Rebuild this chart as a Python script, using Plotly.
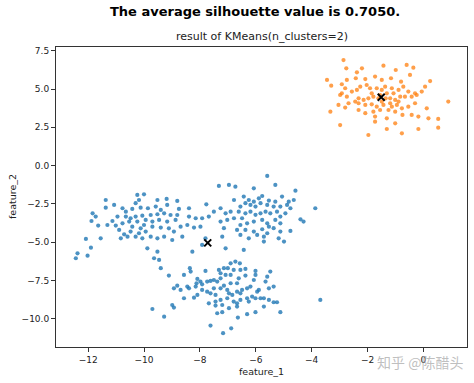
import plotly.graph_objects as go

# cluster 1 (orange)
orange_x = [-2.86,-2.76,-2.20,-2.38,-1.43,-0.99,-0.60,-0.36,-3.45,-3.30,-2.92,-2.74,-2.42,-2.08,-1.73,-1.49,
            -1.16,-0.80,-0.48,0.24,0.06,-0.06,-0.30,-0.54,-0.72,-0.89,-1.13,-1.37,-1.49,-1.67,-1.91,-2.03,
            -2.26,-2.38,-2.56,-2.80,-2.92,-2.98,-2.74,-2.32,-2.14,-1.97,-1.79,-1.61,-1.31,-1.19,-1.01,-0.83,
            -0.66,-0.42,-0.24,-2.32,-2.08,-1.85,-1.67,-1.43,-1.19,-0.95,-0.77,-0.54,-0.30,0.12,0.89,-3.04,
            -2.80,-3.33,-2.32,-2.08,-1.79,-1.55,-1.25,-1.01,-0.75,-0.42,-1.73,-1.73,-1.31,-1.01,-0.18,0.18,
            0.53,-2.98,-1.97,-1.31,-0.77,-0.18,0.53,-1.55,-1.49,-1.07,-0.89,-2.44,-2.68,-1.85,-1.35,-1.13]
orange_y = [6.89,6.35,6.35,6.09,6.52,6.24,6.57,6.39,5.59,5.22,5.31,5.59,5.70,5.65,5.81,5.59,
            5.70,5.48,5.92,5.52,5.15,4.83,4.72,4.83,5.15,4.94,5.05,5.15,4.94,5.05,5.05,5.26,
            5.15,4.94,4.83,5.05,4.72,4.61,4.50,4.39,4.29,4.39,4.50,4.39,4.72,4.39,4.29,4.50,
            4.50,4.50,4.61,4.07,3.96,4.00,3.85,3.96,4.07,3.96,3.74,3.85,4.07,3.74,4.18,3.96,
            3.79,3.52,3.63,3.42,3.52,3.63,3.63,3.52,3.31,3.31,3.20,2.87,3.09,2.76,3.20,3.09,
            3.05,2.65,2.00,2.39,2.11,2.39,2.48,4.61,4.18,4.72,4.18,4.18,4.07,4.72,4.39,3.85]

# cluster 0 (blue)
blue_x = [
    # left blob
    -11.37,-11.07,-11.37,-10.24,-10.00,-10.18,-10.30,-9.52,-9.19,-8.81,-11.84,-11.73,-11.88,-11.64,-11.31,
    -10.77,-10.65,-10.42,-10.12,-9.86,-9.58,-9.40,-9.17,-8.75,-8.39,-7.77,-7.50,-7.68,-7.92,-8.15,-8.39,
    -8.81,-9.05,-9.28,-9.52,-9.76,-10.06,-10.30,-10.48,-10.65,-10.95,-11.13,-11.01,-10.77,-10.53,-10.24,
    -9.94,-9.70,-9.46,-9.17,-8.87,-8.69,-8.45,-8.21,-7.98,-10.89,-10.71,-10.48,-10.12,-9.94,-9.70,-9.40,
    -9.11,-8.93,-8.63,-10.83,-10.59,-10.30,-10.06,-9.76,-9.52,-9.28,-8.99,-11.55,-12.08,-11.90,-12.38,
    -12.44,-12.02,-9.88,-9.52,-9.46,-9.64,-9.40,-8.27,-7.92,-7.80,-10.00,-10.42,-10.18,
    # right blob
    -5.59,-5.30,-7.32,-6.96,-6.73,-6.07,-4.58,-3.87,-7.26,-7.08,-6.90,-6.78,-7.02,-7.26,-7.14,-6.78,
    -6.43,-6.25,-6.07,-5.89,-5.77,-5.53,-5.30,-5.06,-4.82,-4.64,-4.88,-5.12,-5.36,-5.59,-5.83,-6.01,
    -6.19,-6.37,-6.55,-6.61,-6.37,-6.19,-6.01,-5.83,-5.65,-5.48,-5.24,-5.12,-4.94,-4.76,-4.40,-4.29,
    -6.31,-6.07,-5.77,-5.59,-5.30,-5.12,-6.55,-6.67,-6.37,-6.07,-5.77,-5.59,-5.36,-5.12,-4.76,-7.20,
    -6.55,-6.25,-5.71,-5.71,-5.18,-4.99,-7.08,-6.43,-5.95,-5.53,-6.49,
    # bottom blob
    -9.11,-8.93,-8.81,-8.57,-8.36,-8.33,-8.39,-8.15,-8.09,-8.12,-7.98,-7.80,-7.74,-7.62,-7.50,-7.32,
    -7.26,-7.14,-7.00,-6.90,-6.73,-6.57,-6.79,-6.55,-6.37,-6.01,-6.01,-6.07,-6.37,-6.61,-6.90,-7.08,
    -7.26,-7.38,-7.50,-7.62,-7.74,-7.92,-8.09,-8.21,-8.57,-8.69,-8.45,-7.44,-7.26,-7.14,-7.02,-6.90,
    -6.67,-6.67,-6.49,-6.31,-6.19,-5.89,-5.65,-5.48,-5.59,-5.36,-5.53,-5.71,-5.53,-5.36,-5.24,-5.83,
    -6.01,-6.13,-6.31,-6.25,-6.55,-6.67,-6.79,-7.02,-7.26,-7.44,-7.44,-7.20,-6.96,-6.67,-8.99,-8.93,
    -9.70,-9.28,-7.38,-7.20,-6.64,-6.31,-6.01,-5.71,-5.12,-3.69,-7.62,-7.17,-6.88,-7.92,-6.55,-5.95,
    -6.84,-7.68,-6.96]
blue_y = [
    -2.24,-2.56,-2.74,-1.91,-1.87,-2.24,-2.45,-2.24,-2.17,-2.30,-3.11,-3.32,-3.61,-3.91,-3.87,
    -2.78,-3.00,-2.82,-2.74,-2.78,-2.67,-2.89,-2.56,-2.82,-2.78,-2.52,-3.00,-3.32,-3.43,-3.43,-3.32,
    -3.22,-3.22,-3.11,-3.17,-3.22,-3.26,-3.32,-3.43,-3.32,-3.32,-3.61,-3.91,-3.76,-3.65,-3.65,
    -3.54,-3.65,-3.54,-3.65,-3.54,-3.98,-3.87,-4.04,-3.98,-4.19,-4.48,-4.30,-4.09,-4.30,-3.98,-4.04,
    -4.09,-4.30,-4.63,-4.74,-4.63,-4.63,-4.74,-4.63,-4.74,-4.63,-4.85,-4.74,-4.78,-5.35,-5.72,
    -6.04,-5.87,-5.39,-5.61,-6.15,-6.04,-6.69,-5.61,-5.17,-4.74,-3.87,-3.98,-4.41,
    -0.67,-1.26,-1.32,-1.26,-1.37,-1.48,-1.63,-2.78,-2.78,-3.11,-3.00,-3.43,-3.54,-3.65,-4.08,-2.24,
    -2.02,-2.24,-2.35,-2.13,-1.98,-2.28,-2.35,-2.02,-2.35,-2.24,-2.56,-2.67,-2.67,-2.56,-2.45,-2.67,
    -2.56,-2.45,-2.67,-3.00,-3.11,-3.00,-3.21,-3.11,-3.00,-3.11,-3.00,-3.32,-3.11,-2.78,-3.50,-3.65,
    -3.76,-3.65,-3.54,-3.76,-3.54,-3.76,-3.87,-4.19,-4.19,-4.30,-4.15,-4.41,-4.08,-4.30,-4.26,-4.63,
    -4.52,-4.74,-4.63,-4.95,-4.74,-4.95,-5.39,-5.50,-4.52,-3.98,-3.43,
    -7.17,-8.00,-7.83,-7.13,-6.69,-6.91,-8.00,-7.89,-7.39,-7.67,-7.56,-6.87,-7.56,-7.52,-7.46,-6.80,
    -7.02,-6.69,-6.69,-6.37,-6.26,-6.37,-6.80,-6.80,-6.74,-6.87,-7.13,-7.46,-7.17,-7.35,-7.13,-7.13,
    -7.35,-7.56,-8.00,-8.33,-8.22,-8.11,-8.43,-8.61,-8.65,-8.11,-7.89,-8.43,-8.00,-7.83,-8.11,-7.67,
    -7.67,-8.22,-8.11,-8.00,-7.89,-8.11,-7.56,-6.91,-7.24,-7.89,-8.00,-8.65,-8.76,-8.91,-8.91,-8.65,
    -8.65,-8.54,-8.65,-8.87,-8.76,-8.98,-8.87,-8.65,-8.76,-8.87,-9.13,-9.09,-9.30,-9.19,-9.09,-9.26,
    -9.35,-9.85,-9.63,-9.56,-9.91,-9.69,-9.56,-9.19,-9.56,-8.76,-10.43,-10.93,-10.61,-7.74,-8.33,-8.22,
    -8.43,-8.98,-8.33]

centroid_x = [-7.72, -1.51]
centroid_y = [-5.04, 4.46]

x_ticks = [-12, -10, -8, -6, -4, -2, 0]
y_ticks = [-10.0, -7.5, -5.0, -2.5, 0.0, 2.5, 5.0, 7.5]

title_text = "The average silhouette value is 0.7050."
subtitle_text = "result of KMeans(n_clusters=2)"
x_label = "feature_1"
y_label = "feature_2"
watermark = "知乎 @陈醋头"

fig = go.Figure()
fig.add_trace(go.Scatter(x=blue_x, y=blue_y, mode="markers",
                         marker=dict(color="#1f77b4", size=4.2, opacity=0.8, line=dict(width=0)),
                         showlegend=False))
fig.add_trace(go.Scatter(x=orange_x, y=orange_y, mode="markers",
                         marker=dict(color="#ff7f0e", size=4.2, opacity=0.75, line=dict(width=0)),
                         showlegend=False))
fig.add_trace(go.Scatter(x=centroid_x, y=centroid_y, mode="markers",
                         marker=dict(symbol="x-thin-open", color="black", size=7,
                                     line=dict(width=2, color="black")),
                         showlegend=False))

font = "DejaVu Sans, Liberation Sans, sans-serif"
axis_common = dict(showline=True, linecolor="#333", linewidth=1, mirror=True,
                   ticks="outside", ticklen=4, tickcolor="#333", tickwidth=1,
                   showgrid=False, zeroline=False,
                   tickfont=dict(family=font, size=9, color="#222"))

fig.update_layout(
    width=474, height=383,
    margin=dict(l=56, r=7, t=47, b=36),
    paper_bgcolor="white", plot_bgcolor="white",
    xaxis=dict(range=[-13.15, 1.56], tickvals=x_ticks, **axis_common),
    yaxis=dict(range=[-11.83, 7.74], tickvals=y_ticks, tickformat=".1f", **axis_common),
    annotations=[
        dict(text="<b>" + title_text + "</b>", xref="paper", yref="paper", x=0.484, y=1.117,
             xanchor="center", yanchor="middle", showarrow=False,
             font=dict(family=font, size=13, color="black")),
        dict(text=subtitle_text, xref="paper", yref="paper", x=0.5, y=1.035,
             xanchor="center", yanchor="middle", showarrow=False,
             font=dict(family=font, size=11, color="#222")),
        dict(text=x_label, xref="paper", yref="paper", x=0.5, y=-0.083,
             xanchor="center", yanchor="middle", showarrow=False,
             font=dict(family=font, size=9.5, color="#222")),
        dict(text=y_label, xref="paper", yref="paper", x=-0.107, y=0.5, textangle=-90,
             xanchor="center", yanchor="middle", showarrow=False,
             font=dict(family=font, size=9.5, color="#222")),
        dict(text=watermark, xref="paper", yref="paper", x=0.775, y=-0.05,
             xanchor="left", yanchor="middle", showarrow=False,
             font=dict(family="Noto Sans CJK SC", size=14, color="rgba(170,170,170,0.75)")),
    ],
)

fig.write_html("out.html", config={"displayModeBar": False},
               post_script="document.body.style.margin='0px';")
